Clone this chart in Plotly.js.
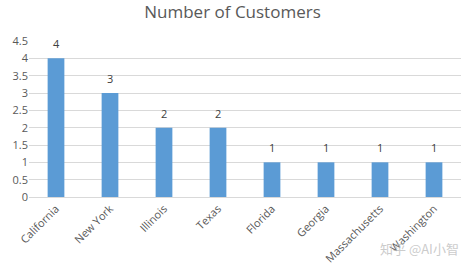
<!DOCTYPE html>
<html><head><meta charset="utf-8">
<script src="https://cdn.plot.ly/plotly-3.0.1.min.js"></script>
<style>html,body{margin:0;padding:0;background:#fff}#c{width:465px;height:267px}</style>
</head><body><div id="c"></div>
<script>
var states = ["California","New York","Illinois","Texas","Florida","Georgia","Massachusetts","Washington"];
var customers = [4,3,2,2,1,1,1,1];
var yTicks = [0,0.5,1,1.5,2,2.5,3,3.5,4,4.5];
var yTickLabels = ["0","0.5","1","1.5","2","2.5","3","3.5","4","4.5"];

var trace = {
  type: "bar", x: states, y: customers,
  marker: {color: "#5B9BD5"}, width: 0.31, hoverinfo: "none"
};
var labelAnn = states.map(function (s, i) {
  return {x: s, y: customers[i], xref: "x", yref: "y", text: String(customers[i]),
    showarrow: false, yanchor: "bottom", yshift: 5,
    font: {family: "Open Sans, sans-serif", size: 11, color: "#404040"}};
});
var layout = {
  width: 465, height: 267,
  margin: {l: 29, r: 4, t: 41, b: 70},
  paper_bgcolor: "#fff", plot_bgcolor: "#fff",
  title: {text: "Number of Customers", x: 0.5, xanchor: "center", y: 0.955, yanchor: "middle",
    font: {family: "Open Sans, sans-serif", size: 17, color: "#595959"}},
  showlegend: false,
  xaxis: {tickangle: -45, tickfont: {family: "Open Sans, sans-serif", size: 11, color: "#595959"},
    showline: true, linecolor: "#d9d9d9", ticks: "", showgrid: false, fixedrange: true},
  yaxis: {range: [0, 4.5], tickvals: yTicks, ticktext: yTickLabels,
    tickfont: {family: "Open Sans, sans-serif", size: 11, color: "#595959"},
    gridcolor: "#d9d9d9", zeroline: false, showline: false, ticks: "", ticklen: 0, fixedrange: true},
  annotations: labelAnn.concat([{text: "知乎 @AI小智", xref: "paper", yref: "paper", x: 1.0, y: -0.33,
    xanchor: "right", yanchor: "middle", showarrow: false,
    font: {family: "Noto Sans CJK SC, sans-serif", size: 13, color: "rgba(190,190,190,0.8)"}}])
};
Plotly.newPlot("c", [trace], layout, {staticPlot: true, displayModeBar: false});
</script></body></html>
